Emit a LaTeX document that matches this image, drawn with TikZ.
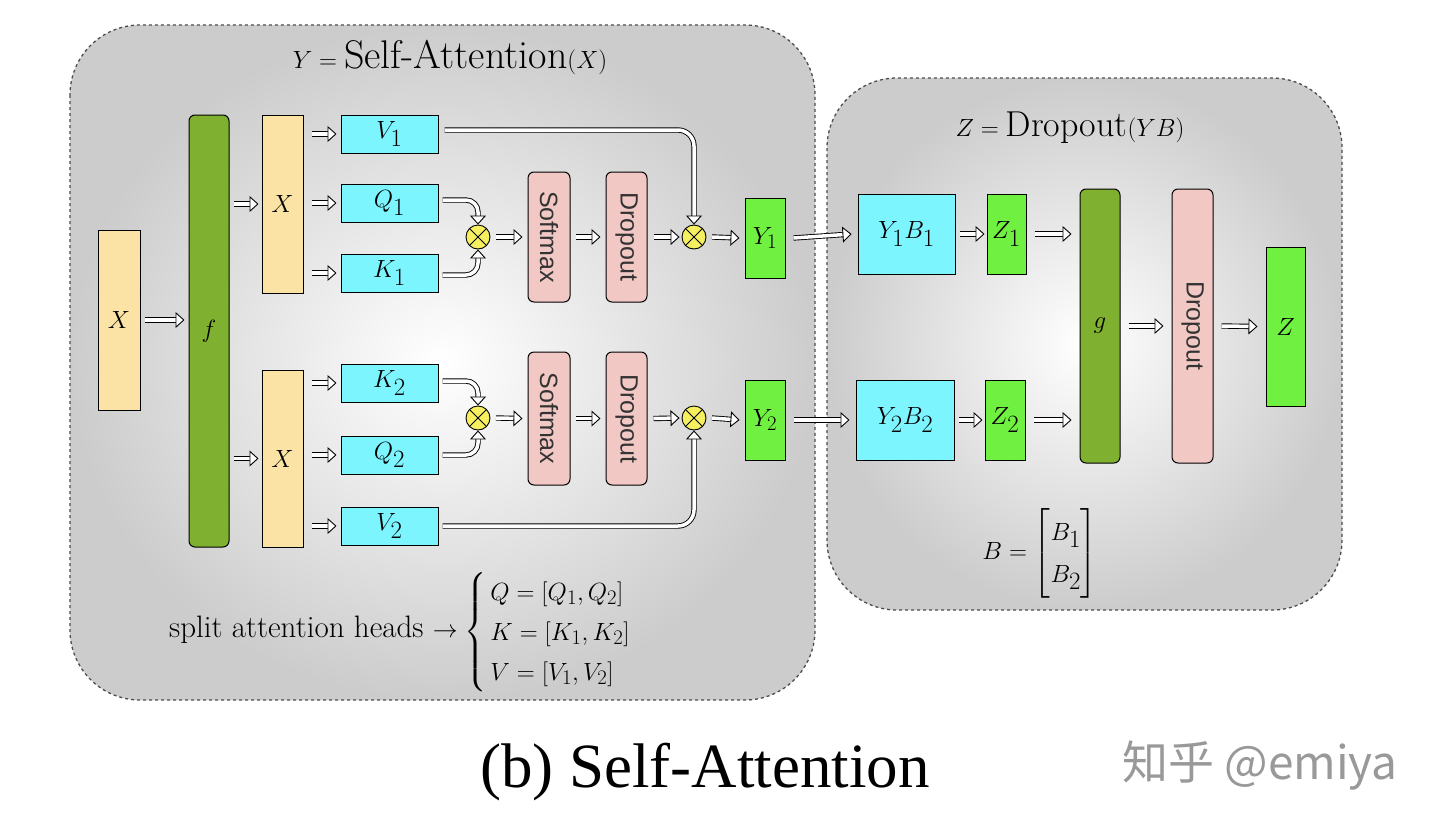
\documentclass[tikz,border=0pt]{standalone}
\usepackage{amsmath}
\usepackage{fontspec}
\usetikzlibrary{arrows.meta,shapes.misc}
\newfontfamily\sansf{Liberation Sans}
\newfontfamily\capf{Liberation Serif}
\newfontfamily\cjkf{Noto Sans CJK SC}
\definecolor{cyanb}{HTML}{7DF5FF}
\definecolor{yelb}{HTML}{FBE3A5}
\definecolor{dgreen}{HTML}{80B030}
\definecolor{lgreen}{HTML}{70F040}
\definecolor{pinkb}{HTML}{F2C8C4}
\definecolor{otim}{HTML}{F6F060}
\tikzset{
  box/.style={draw=black, line width=1pt, inner sep=0pt, font=\fontsize{35}{40}\selectfont},
  rbox/.style={box, rounded corners=6pt},
  lbl/.style={font=\fontsize{25}{28}\selectfont\sansf, rotate=-90, text=black!80},
  ha/.style={draw=black, line width=0.9pt, double=white, double distance=3.5pt,
    -{Triangle[open, length=9pt, width=16pt, fill=white, line width=0.9pt]}},
  om/.style={circle, draw=black, line width=0.9pt, fill=otim, minimum size=24pt, inner sep=0pt,
    path picture={\draw[line width=0.9pt] (path picture bounding box.north west)--(path picture bounding box.south east)
      (path picture bounding box.north east)--(path picture bounding box.south west);}},
  panel/.style={draw=black!70, dashed, line width=1.3pt, rounded corners=70pt,
    inner color=white, outer color=black!20},
}
\begin{document}
\begin{tikzpicture}[x=1pt,y=-1pt]
\useasboundingbox[fill=white] (0,0) rectangle (1440,825);
% panels
\path[panel] (70,25) rectangle (815,700);
\path[panel] (827,78) rectangle (1342,610);
\node[font=\fontsize{40}{44}\selectfont] (t1) at (450,57) {$Y = \mbox{Self-Attention}(X)$};
\node[font=\fontsize{36}{40}\selectfont] (t2) at (1070,128) {$Z = \mbox{Dropout}(YB)$};
% left column
\node[box, fill=yelb, minimum width=42pt, minimum height=180pt] (x0) at (119,320) {$X$};
\node[rbox, fill=dgreen, minimum width=40pt, minimum height=432pt] (f) at (209,331) {$f$};
\node[box, fill=yelb, minimum width=41pt, minimum height=178pt] (xa) at (282.5,204) {$X$};
\node[box, fill=yelb, minimum width=41pt, minimum height=177pt] (xb) at (282.5,458.5) {$X$};
\node[box, fill=cyanb, minimum width=97pt, minimum height=38pt] (v1) at (389.5,134) {$V_1$};
\node[box, fill=cyanb, minimum width=97pt, minimum height=38pt] (q1) at (389.5,203) {$Q_1$};
\node[box, fill=cyanb, minimum width=97pt, minimum height=38pt] (k1) at (389.5,273) {$K_1$};
\node[box, fill=cyanb, minimum width=97pt, minimum height=38pt] (k2) at (389.5,383) {$K_2$};
\node[box, fill=cyanb, minimum width=97pt, minimum height=38pt] (q2) at (389.5,455) {$Q_2$};
\node[box, fill=cyanb, minimum width=97pt, minimum height=38pt] (v2) at (389.5,526) {$V_2$};
\node[om] (m1) at (478,237) {};
\node[om] (m2) at (478,418) {};
\node[rbox, fill=pinkb, minimum width=42pt, minimum height=130pt] (s1) at (549,237) {};
\node[lbl] at (s1) {Softmax};
\node[rbox, fill=pinkb, minimum width=41pt, minimum height=130pt] (d1) at (626.5,237) {};
\node[lbl] at (d1) {Dropout};
\node[rbox, fill=pinkb, minimum width=42pt, minimum height=133pt] (s2) at (549,418.5) {};
\node[lbl] at (s2) {Softmax};
\node[rbox, fill=pinkb, minimum width=41pt, minimum height=133pt] (d2) at (626.5,418.5) {};
\node[lbl] at (d2) {Dropout};
\node[om] (m3) at (694,237) {};
\node[om] (m4) at (694,418) {};
\node[box, fill=lgreen, minimum width=40pt, minimum height=80pt, font=\fontsize{30}{34}\selectfont] (y1) at (765,238) {$Y_1$};
\node[box, fill=lgreen, minimum width=40pt, minimum height=80pt, font=\fontsize{30}{34}\selectfont] (y2) at (765,420) {$Y_2$};
% right
\node[box, fill=cyanb, minimum width=97pt, minimum height=80pt] (yb1) at (906.5,234) {$Y_1B_1$};
\node[box, fill=lgreen, minimum width=39pt, minimum height=80pt] (z1) at (1006.5,234) {$Z_1$};
\node[box, fill=cyanb, minimum width=98pt, minimum height=80pt] (yb2) at (905,420) {$Y_2B_2$};
\node[box, fill=lgreen, minimum width=40pt, minimum height=80pt] (z2) at (1005,420) {$Z_2$};
\node[rbox, fill=dgreen, minimum width=40pt, minimum height=274pt] (g) at (1100,326) {$g$};
\node[rbox, fill=pinkb, minimum width=41pt, minimum height=274pt] (d3) at (1192.5,326) {};
\node[lbl] at (d3) {Dropout};
\node[box, fill=lgreen, minimum width=39pt, minimum height=159pt, font=\fontsize{42}{46}\selectfont] (z) at (1285.5,326.5) {$Z$};
\node[font=\fontsize{38}{42}\selectfont] (bm) at (1040,553) {$B = \begin{bmatrix} B_1\\ B_2\end{bmatrix}$};
% split text
\node[font=\fontsize{31}{36}\selectfont, anchor=east, inner sep=0pt] (sp) at (458,630) {split attention heads $\rightarrow$};
\node[font=\fontsize{31}{40}\selectfont, anchor=west, inner sep=0pt] (cs) at (464,632)
  {$\left\{\begin{array}{@{\,}l}Q=[Q_1,Q_2]\\ K=[K_1,K_2]\\ V=[V_1,V_2]\end{array}\right.$};
% caption
\node[font=\fontsize{63}{68}\selectfont\capf] (cap) at (705,772) {(b) Self-Attention};
\node[font=\fontsize{46}{50}\selectfont\cjkf, text=black!40] (wm) at (1260,766) {知乎 @emiya};
% arrows
\draw[ha] (x0.east) ++(4,0) -- ([xshift=-4pt]f.west|-x0.east);
\draw[ha] ([xshift=4pt]f.east|-xa.west) -- ([xshift=-3pt]xa.west);
\draw[ha] ([xshift=4pt]f.east|-xb.west) -- ([xshift=-3pt]xb.west);
\foreach \a/\b in {xa/v1,xa/q1,xa/k1,xb/k2,xb/q2,xb/v2}{
  \draw[ha] (\a.east|-\b.west) ++(8,0) -- ([xshift=-4pt]\b.west);}
\draw[ha, rounded corners=12pt] (q1.east) ++(4,-3) -| (m1.north);
\draw[ha, rounded corners=12pt] (k1.east) ++(4,2) -| (m1.south);
\draw[ha, rounded corners=12pt] (k2.east) ++(4,-2) -| (m2.north);
\draw[ha, rounded corners=12pt] (q2.east) ++(4,0) -| (m2.south);
\draw[ha, rounded corners=16pt] (v1.east) ++(6,-4) -| (m3.north);
\draw[ha, rounded corners=16pt] (v2.east) ++(4,0) -| (m4.south);
\draw[ha] (m1) ++(18,0) -- ([xshift=-5pt]s1.west);
\draw[ha] (s1) ++(27,0) -- ([xshift=-5pt]d1.west);
\draw[ha] (d1) ++(27,0) -- ([xshift=-2pt]m3.west);
\draw[ha] (m3) ++(18,0) -- ([xshift=-5pt]y1.west);
\draw[ha] (m2) ++(18,0) -- ([xshift=-5pt]s2.west);
\draw[ha] (s2) ++(27,0) -- ([xshift=-5pt]d2.west);
\draw[ha] (d2) ++(27,0) -- ([xshift=-2pt]m4.west);
\draw[ha] (m4) ++(18,0) -- ([xshift=-5pt]y2.west);
\draw[ha] (y1.east) ++(8,0) -- ([xshift=-6pt]yb1.west);
\draw[ha] (y2.east) ++(8,0) -- ([xshift=-6pt]yb2.west);
\draw[ha] (yb1.east) ++(4,0) -- ([xshift=-2pt]z1.west);
\draw[ha] (yb2.east) ++(4,0) -- ([xshift=-2pt]z2.west);
\draw[ha] (z1.east) ++(8,0) -- ([xshift=-8pt]g.west|-z1.east);
\draw[ha] (z2.east) ++(8,0) -- ([xshift=-8pt]g.west|-z2.east);
\draw[ha] (g.east) ++(8,0) -- ([xshift=-8pt]d3.west);
\draw[ha] (d3.east) ++(8,0) -- ([xshift=-8pt]z.west);
\end{tikzpicture}
\end{document}
